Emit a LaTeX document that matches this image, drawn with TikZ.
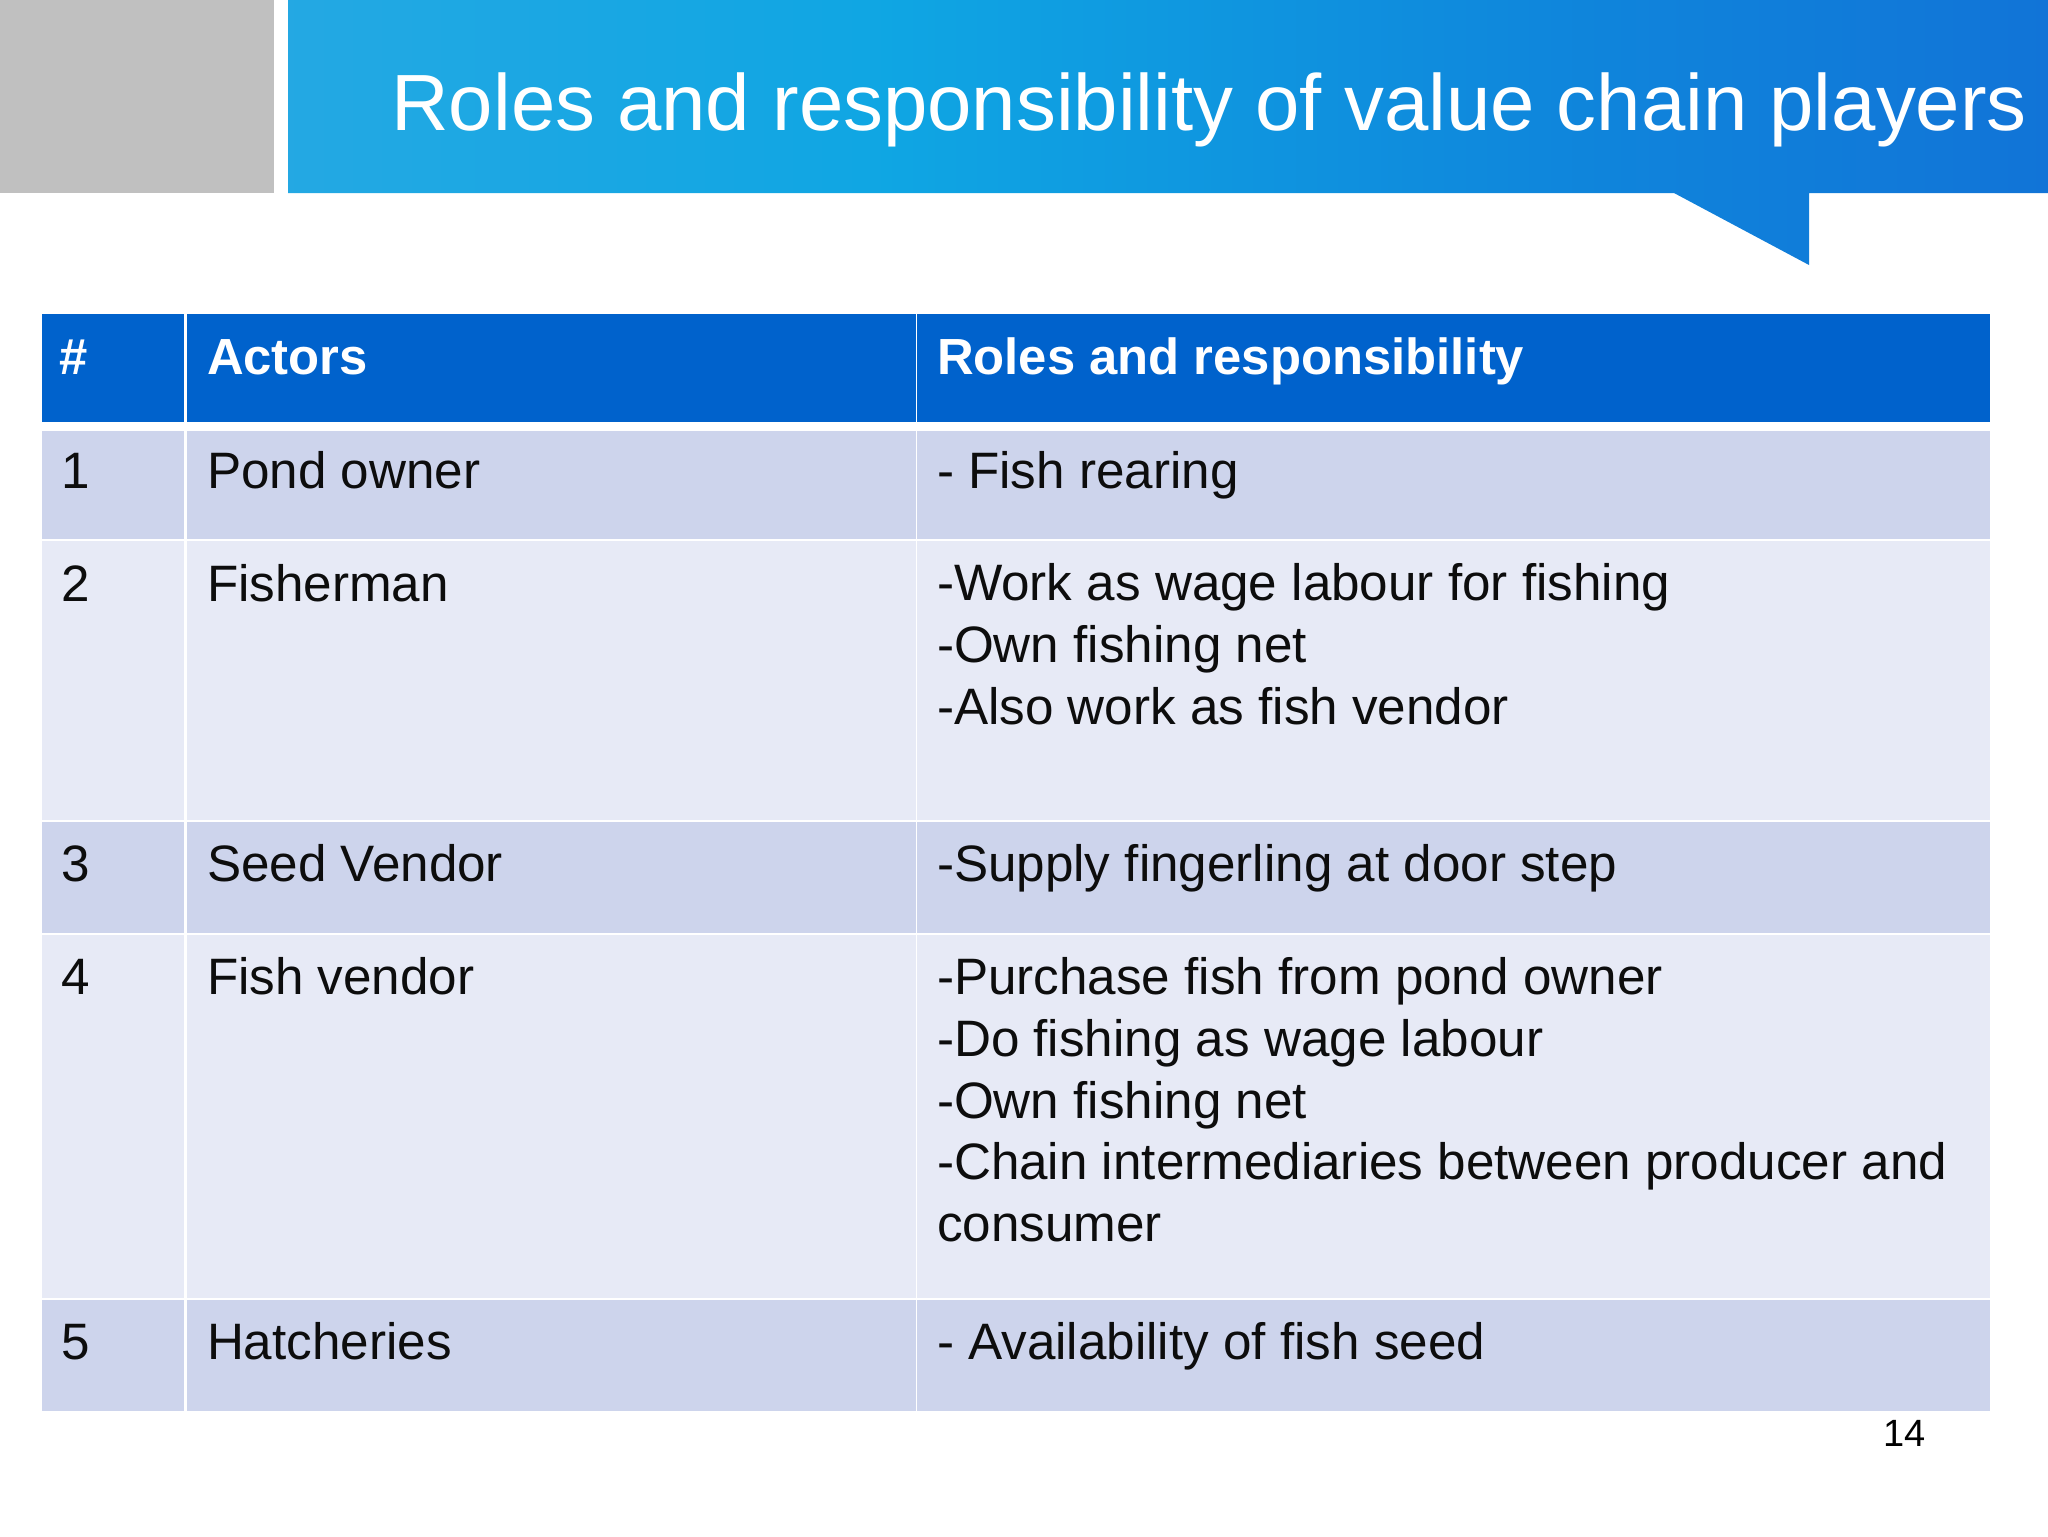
\documentclass[tikz,border=0pt]{standalone}
\usepackage{fontspec}
\setmainfont{Liberation Sans}
\usetikzlibrary{positioning}
\definecolor{headblue}{RGB}{0,98,204}
\definecolor{rowdark}{RGB}{205,212,236}
\definecolor{rowlight}{RGB}{231,234,246}
\definecolor{slidegray}{RGB}{192,192,192}
\pgfdeclarehorizontalshading{bannershade}{100bp}{
    rgb(0bp)=(0.16,0.67,0.89);
    rgb(25bp)=(0.14,0.66,0.89);
    rgb(42bp)=(0.06,0.65,0.89);
    rgb(62bp)=(0.06,0.52,0.86);
    rgb(78bp)=(0.07,0.44,0.84);
    rgb(100bp)=(0.07,0.39,0.84)}
\tikzset{
    cell/.style={anchor=north west, inner sep=0pt, outer sep=0pt, minimum height=#1*0.5pt},
    hcell/.style={cell=#1, fill=headblue},
    dcell/.style={cell=#1, fill=rowdark},
    lcell/.style={cell=#1, fill=rowlight},
    colnum/.style={minimum width=71pt},
    colact/.style={minimum width=364.5pt},
    colrole/.style={minimum width=536.5pt},
    txt/.style={anchor=north west, inner sep=0pt, outer sep=0pt, xshift=#1, yshift=-8pt, align=left,
        execute at begin node=\strut, font=\fontsize{25.6}{30.85}\selectfont, text=black!95},
    txt/.default=10pt,
    htxt/.style={txt=#1, yshift=-0.7pt, text=white, font=\fontsize{25.4}{30.85}\selectfont\bfseries},
    htxt/.default=10pt,
    mtxt/.style={txt, yshift=-3.3pt},
}
\begin{document}
\begin{tikzpicture}[x=0.5pt, y=-0.5pt]
    \useasboundingbox (0,0) rectangle (2048,1536);
    % banner
    \fill[slidegray] (0,0) rectangle (274,193);
    \shade[shading=bannershade] (288,0) -- (2048,0) -- (2048,193) -- (1809,193) -- (1809,265) -- (1674,193) -- (288,193) -- cycle;
    \node[anchor=base west, inner sep=0pt, text=white, font=\fontsize{39.87}{48}\selectfont] (title) at (391,131) {Roles and responsibility of value chain players};

    % header
    \node[hcell=108, colnum] (h1) at (41.5,314) {};
    \node[hcell=108, colact] (h2) at (187,314) {};
    \node[hcell=108, colrole] (h3) at (917,314) {};
    \node[htxt=9pt] (h1t) at (h1.north west) {\#};
    \node[htxt] (h2t) at (h2.north west) {Actors};
    \node[htxt] (h3t) at (h3.north west) {Roles and responsibility};

    % row 1
    \node[dcell=108, colnum] (a1) at (41.5,431) {};
    \node[dcell=108, colact] (b1) at (187,431) {};
    \node[dcell=108, colrole] (c1) at (917,431) {};
    \node[txt=10pt, yshift=0.7pt] (a1t) at (a1.north west) {1};
    \node[txt, yshift=0.7pt] (b1t) at (b1.north west) {Pond owner};
    \node[txt, yshift=0.7pt] (c1t) at (c1.north west) {- Fish rearing};

    % row 2
    \node[lcell=279, colnum] (a2) at (41.5,541) {};
    \node[lcell=279, colact] (b2) at (187,541) {};
    \node[lcell=279, colrole] (c2) at (917,541) {};
    \node[txt=10pt, yshift=-0.7pt] (a2t) at (a2.north west) {2};
    \node[txt, yshift=-0.7pt] (b2t) at (b2.north west) {Fisherman};
    \node[mtxt] (c2t) at (c2.north west) {-Work as wage labour for fishing\\-Own fishing net\\-Also work as fish vendor};

    % row 3
    \node[dcell=111, colnum] (a3) at (41.5,822) {};
    \node[dcell=111, colact] (b3) at (187,822) {};
    \node[dcell=111, colrole] (c3) at (917,822) {};
    \node[txt=10pt] (a3t) at (a3.north west) {3};
    \node[txt] (b3t) at (b3.north west) {Seed Vendor};
    \node[txt] (c3t) at (c3.north west) {-Supply fingerling at door step};

    % row 4
    \node[lcell=363, colnum] (a4) at (41.5,935) {};
    \node[lcell=363, colact] (b4) at (187,935) {};
    \node[lcell=363, colrole] (c4) at (917,935) {};
    \node[txt=10pt] (a4t) at (a4.north west) {4};
    \node[txt] (b4t) at (b4.north west) {Fish vendor};
    \node[mtxt] (c4t) at (c4.north west) {-Purchase fish from pond owner\\-Do fishing as wage labour\\-Own fishing net\\-Chain intermediaries between producer and\\consumer};

    % row 5
    \node[dcell=111, colnum] (a5) at (41.5,1300) {};
    \node[dcell=111, colact] (b5) at (187,1300) {};
    \node[dcell=111, colrole] (c5) at (917,1300) {};
    \node[txt=10pt] (a5t) at (a5.north west) {5};
    \node[txt] (b5t) at (b5.north west) {Hatcheries};
    \node[txt] (c5t) at (c5.north west) {- Availability of fish seed};

    \node[anchor=base west, inner sep=0pt, font=\fontsize{19}{23}\selectfont] (page) at (1883,1446) {14};
\end{tikzpicture}
\end{document}
